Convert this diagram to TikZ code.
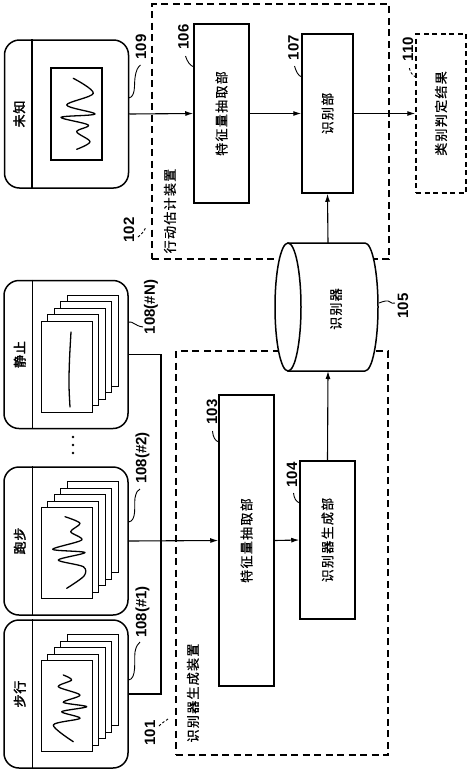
\documentclass[tikz,border=0pt]{standalone}
\usepackage{fontspec}
\setmainfont{Liberation Sans}
\newfontfamily\cjk[LetterSpace=10,FakeBold=0.8]{Noto Sans CJK SC}
\newfontfamily\cjkb[LetterSpace=6,FakeBold=2.2]{Noto Sans CJK SC}
\usetikzlibrary{arrows.meta,calc}
\newcommand\drawstack[1]{%
  \foreach \k in {4,3,2,1,0}{%
    \draw[sheet] ($(#1.north west)+(38+6.5*\k,41.5-6.5*\k)$) rectangle ++(51,91);
  }}
\begin{document}
\begin{tikzpicture}[x=1pt,y=-1pt,
  box/.style={draw,line width=1.5pt,inner sep=0pt,fill=white},
  dbox/.style={draw,line width=1.4pt,dash pattern=on 7pt off 4.5pt,inner sep=0pt},
  grp/.style={draw,line width=1.5pt,rounded corners=15pt,minimum width=124pt,minimum height=148pt,inner sep=0pt},
  sheet/.style={draw,line width=1.4pt,fill=white},
  wave/.style={line width=1.3pt,line cap=round,line join=round},
  arr/.style={line width=1.1pt,-{Latex[length=8pt,width=5pt]}},
  conn/.style={line width=1.1pt},
  num/.style={font=\fontsize{15}{15}\selectfont\bfseries,inner sep=0pt},
  lead/.style={line width=0.9pt},
  dlead/.style={line width=0.9pt,dash pattern=on 2.5pt off 2pt},
  zh/.style={font=\fontsize{13}{13}\selectfont\cjk,inner sep=0pt},
  zhb/.style={font=\fontsize{13}{13}\selectfont\cjkb,inner sep=0pt},
]
\useasboundingbox (0,0) rectangle (474,774);
\fill[white] (0,0) rectangle (474,774);

% dashed device boxes
\node[dbox,minimum width=237pt,minimum height=255pt] (b102) at (270.5,131.5) {};
\node[dbox,minimum width=212pt,minimum height=404pt] (b101) at (282,553) {};
\node[zh] (t102) at (170,211) {\rotatebox{90}{行动估计装置}};
\node[zh] (t101) at (193,693) {\rotatebox{90}{识别器生成装置}};

% estimation side
\node[box,minimum width=55pt,minimum height=179pt,zh] (fe2) at (221.5,113.5) {\rotatebox{90}{特征量抽取部}};
\node[box,minimum width=51pt,minimum height=159pt,zh] (rec) at (327.5,113.5) {\rotatebox{90}{识别部}};
\node[draw,line width=1.4pt,dash pattern=on 5pt off 3.5pt,minimum width=50pt,minimum height=159pt,zh] (res) at (441,113.5) {\rotatebox{90}{类别判定结果}};

% generation side
\node[box,minimum width=55pt,minimum height=291pt,zh] (fe1) at (246.5,540.5) {\rotatebox{90}{特征量抽取部}};
\node[box,minimum width=55pt,minimum height=158pt,zh] (gen) at (327.5,540) {\rotatebox{90}{识别器生成部}};

% cylinder
\coordinate (ctop) at (328,243);
\coordinate (cbot) at (328,371);
\draw[line width=1.5pt,fill=white] (288,243) -- (365,243) arc[start angle=-90,end angle=90,x radius=13,y radius=64] -- (288,371) -- cycle;
\draw[line width=1.5pt,fill=white] (288,307) ellipse[x radius=13,y radius=64];
\node[zh] (clf) at (336,309) {\rotatebox{90}{识别器}};

% unknown data
\node[grp] (u) at (66.5,114) {};
\draw[line width=1.5pt] ($(u.north west)+(28,0)$) -- ($(u.south west)+(28,0)$);
\node[zhb] (tu) at ($(u.west)+(15.5,0)$) {\rotatebox{90}{未知}};
\draw[sheet] (51,68) rectangle (102,160);
\draw[wave] plot[smooth,tension=0.55] coordinates {(73.3,78.3) (93.3,93.3) (66.7,105) (95,114) (61,117.3) (88.3,125) (76.7,131.7) (90,141.7) (76.7,149.3)};

% learning data groups
\node[grp] (gN) at (66,354.5) {};
\node[grp] (g2) at (66,541) {};
\node[grp] (g1) at (66,694) {};
\foreach \g/\t in {gN/静止,g2/跑步,g1/步行}{
  \draw[line width=1.5pt] ($(\g.north west)+(29,0)$) -- ($(\g.south west)+(29,0)$);
  \node[zhb] at ($(\g.west)+(16.5,0)$) {\rotatebox{90}{\t}};
  \drawstack{\g}
}
\draw[wave] plot[smooth,tension=0.6] coordinates {(71,332) (69.5,360) (69,385) (70,407)};
\draw[wave] plot[smooth,tension=0.5] coordinates {(65,516.7) (80,523.3) (70.7,531.7) (81.7,540) (52.7,549.3) (85,552.5) (58.3,560) (83.3,566.7) (84,576) (66.7,588.3)};
\draw[wave] plot[smooth,tension=0.5] coordinates {(63.3,675) (71.7,680) (58.3,686.7) (80,695) (63.3,702.3) (86.7,706.7) (61.7,711.7) (80,718.3) (53.3,725) (73.3,741.7)};
\foreach \yy in {437,445,453}{\fill (73,\yy) circle[radius=1.4pt];}

% connectors
\coordinate (bus) at (161,541);
\draw[conn] (gN.east) -| (bus) |- (g1.east);
\draw[arr] (g2.east) -- (fe1.west);
\draw[arr] (fe1.east) -- (gen.west);
\draw[arr] (gen.north) -- (cbot);
\draw[arr] (ctop) -- (rec.south);
\draw[arr] (u.east) -- (fe2.west);
\draw[arr] (fe2.east) -- (rec.west);
\draw[arr] (rec.east) -- (res.west);

% reference numerals
\node[num] (l109) at (141,47) {\rotatebox{90}{109}};
\draw[lead] (128.5,98) .. controls (136,97) and (134,84) .. (135,78) .. controls (136,70) and (138,67) .. (140.5,65);
\node[num] (l106) at (183.5,37) {\rotatebox{90}{106}};
\draw[lead] (194,67) .. controls (190,66) and (187,61) .. (185.5,56);
\node[num] (l107) at (293.5,47.5) {\rotatebox{90}{107}};
\draw[lead] (302,77) .. controls (298,76) and (296,71) .. (294.5,66);
\node[num] (l110) at (408,49) {\rotatebox{90}{110}};
\draw[dlead] (416,77) .. controls (412,76) and (410,71) .. (409,67);
\node[num] (l102) at (129,230) {\rotatebox{90}{102}};
\draw[dlead] (138,237) .. controls (142,234) and (144,231) .. (146,227);
\node[num] (l101) at (150,733) {\rotatebox{90}{101}};
\draw[dlead] (159,726) .. controls (162,723) and (165,721) .. (168,719);
\node[num] (l103) at (212,412) {\rotatebox{90}{103}};
\draw[lead] (219,442) .. controls (215,441) and (213,437) .. (212.5,431);
\node[num] (l104) at (292,475) {\rotatebox{90}{104}};
\draw[lead] (300,503) .. controls (296,502) and (294,498) .. (293.5,493);
\node[num] (l105) at (403,306) {\rotatebox{90}{105}};
\draw[lead] (379,303) .. controls (384,301) and (388,300) .. (390,302) .. controls (392,304) and (393,303) .. (395,303);
\node[num] (l108N) at (151,307) {\rotatebox{90}{108(\#N)}};
\draw[lead] (128.5,322) .. controls (133,321) and (135,326) .. (143,327);
\node[num] (l1082) at (142.5,458) {\rotatebox{90}{108(\#2)}};
\draw[lead] (128.5,522) .. controls (137,521) and (134,505) .. (135,498) .. controls (136,492) and (138,490) .. (140,489);
\node[num] (l1081) at (142.5,612) {\rotatebox{90}{108(\#1)}};
\draw[lead] (128.5,680) .. controls (137,679) and (134,660) .. (135,652) .. controls (136,646) and (138,644) .. (140,642);
\end{tikzpicture}
\end{document}
